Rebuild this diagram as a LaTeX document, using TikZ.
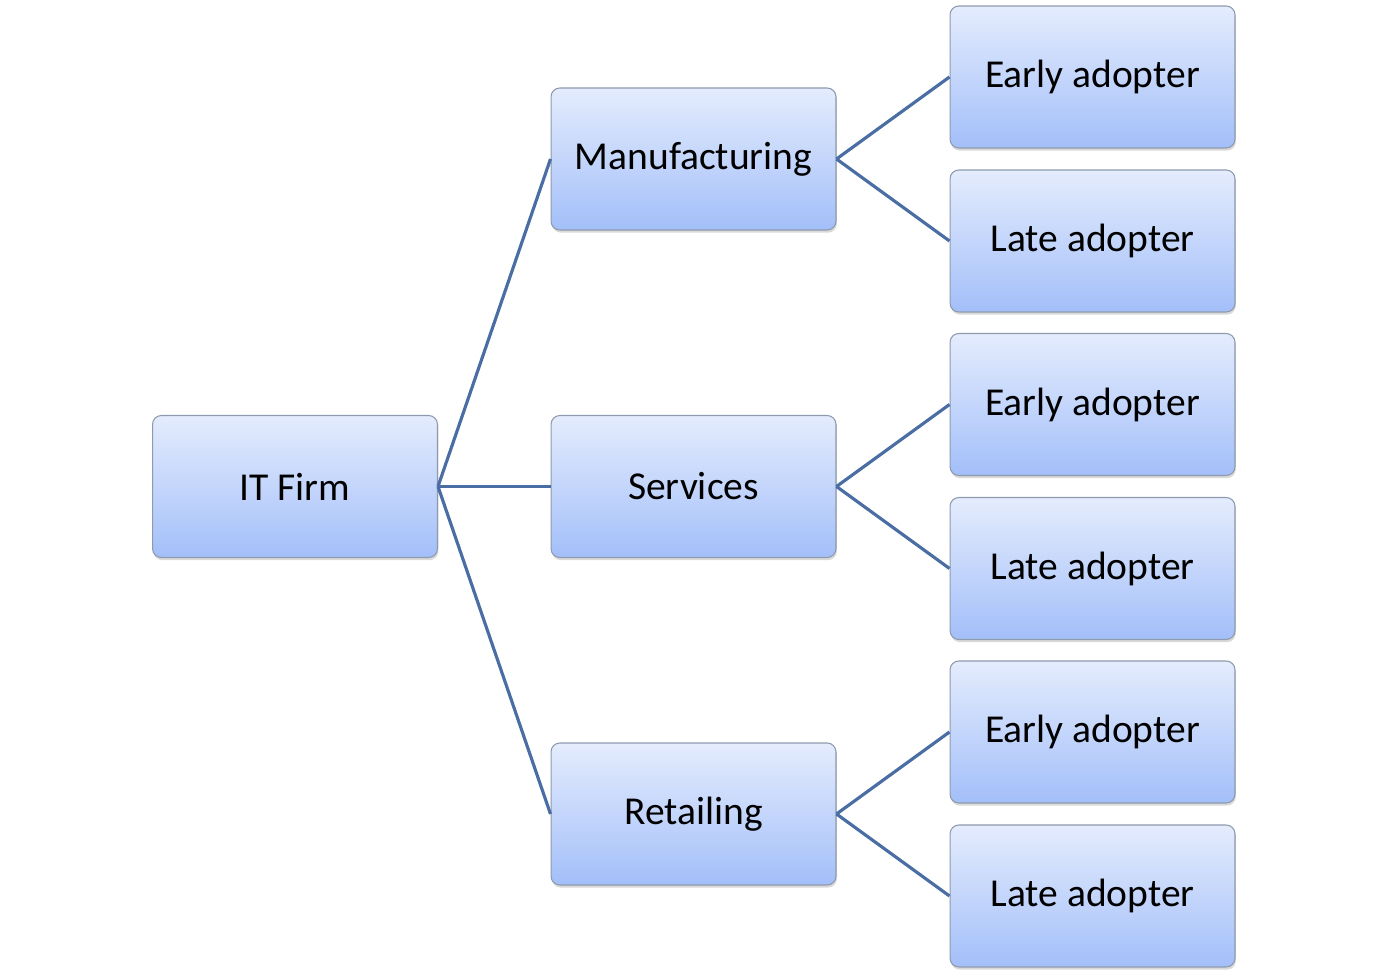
\documentclass[tikz,border=0pt]{standalone}
\usepackage{fontspec}
\setmainfont{Carlito}
\usetikzlibrary{shadows}
\definecolor{topc}{HTML}{E4ECFD}
\definecolor{botc}{HTML}{A3BFF9}
\definecolor{edgec}{HTML}{8E9AAE}
\definecolor{linec}{HTML}{4A6EA3}
\begin{document}
\begin{tikzpicture}[x=0.02cm,y=-0.02cm,
  box/.style={draw=edgec,line width=0.6pt,rounded corners=5pt,top color=topc,bottom color=botc,
    minimum width=5.7cm,minimum height=2.84cm,inner sep=0pt,font=\fontsize{22.5}{26}\selectfont,
    drop shadow={shadow xshift=0.5pt,shadow yshift=-1.5pt,opacity=0.3}},
  conn/.style={draw=linec,line width=1.8pt}]
\useasboundingbox (0,0) rectangle (1387,979);
\node[box] (it) at (295,486.5) {IT Firm};
\node[box] (m) at (693.5,159) {Manufacturing};
\node[box] (s) at (693.5,486.5) {Services};
\node[box] (r) at (693.5,814) {Retailing};
\node[box] (m1) at (1092.5,77) {Early adopter};
\node[box] (m2) at (1092.5,241) {Late adopter};
\node[box] (s1) at (1092.5,404.5) {Early adopter};
\node[box] (s2) at (1092.5,568.5) {Late adopter};
\node[box] (r1) at (1092.5,732) {Early adopter};
\node[box] (r2) at (1092.5,896) {Late adopter};
\draw[conn] (it.east) -- (m.west);
\draw[conn] (it.east) -- (s.west);
\draw[conn] (it.east) -- (r.west);
\draw[conn] (m.east) -- (m1.west);
\draw[conn] (m.east) -- (m2.west);
\draw[conn] (s.east) -- (s1.west);
\draw[conn] (s.east) -- (s2.west);
\draw[conn] (r.east) -- (r1.west);
\draw[conn] (r.east) -- (r2.west);
\end{tikzpicture}
\end{document}
